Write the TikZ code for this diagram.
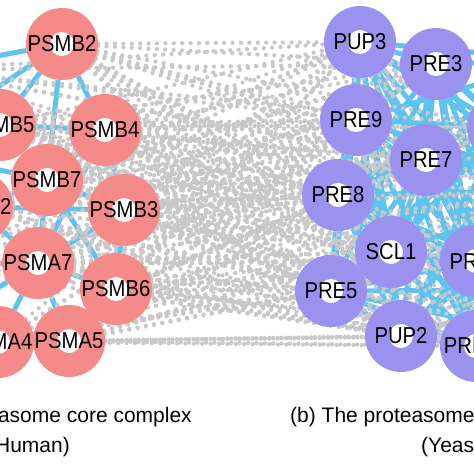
\documentclass[tikz,border=0pt]{standalone}
\usepackage{fontspec}
\setmainfont{Liberation Sans}
\newfontfamily\labelfont[FakeStretch=0.88]{Liberation Sans}
\usetikzlibrary{backgrounds}
\definecolor{human}{RGB}{245,138,138}
\definecolor{yeast}{RGB}{155,146,240}
\definecolor{link}{RGB}{95,195,240}
\definecolor{ortho}{RGB}{200,200,200}

\tikzset{
  subunit/.style={circle, minimum size=72pt, inner sep=0pt,
    font=\labelfont\fontsize{23}{23}\selectfont,
    path picture={\fill[white] (path picture bounding box.center) circle (12pt);}},
  hsub/.style={subunit, fill=human},
  ysub/.style={subunit, fill=yeast},
  ppi/.style={link, line width=5pt},
  hom/.style={ortho, line width=4.3pt, line cap=round, dash pattern=on 0pt off 8.4pt},
  caption/.style={font=\fontsize{21}{21}\selectfont, inner sep=0pt}
}

\begin{document}
\begin{tikzpicture}[x=1pt, y=-1pt]
  \useasboundingbox (0,0) rectangle (474,474);
  \clip (0,0) rectangle (474,474);
  % human core complex
  \node[hsub] (b2) at (62,44) {PSMB2};
  \node[hsub] (b5) at (0,125) {PSMB5};
  \node[hsub] (b4) at (105,130) {PSMB4};
  \node[hsub] (b7) at (47,180) {PSMB7};
  \node[hsub] (a2) at (-23,207) {PSMA2};
  \node[hsub] (b3) at (124,210) {PSMB3};
  \node[hsub] (a7) at (38,263) {PSMA7};
  \node[hsub] (b6) at (116,289) {PSMB6};
  \node[hsub] (a4) at (-2,342) {PSMA4};
  \node[hsub] (a5) at (69,341) {PSMA5};
  % yeast core complex
  \node[ysub] (p3) at (360,42) {PUP3};
  \node[ysub] (e3) at (436,64) {PRE3};
  \node[ysub] (e9) at (356,120) {PRE9};
  \node[ysub] (p1) at (503,127) {PUP1};
  \node[ysub] (e7) at (426,160) {PRE7};
  \node[ysub] (e8) at (338,195) {PRE8};
  \node[ysub] (s1) at (391,252) {SCL1};
  \node[ysub] (e2) at (476,261) {PRE2};
  \node[ysub] (e5) at (331,291) {PRE5};
  \node[ysub] (p2) at (401,336) {PUP2};
  \node[ysub] (e10) at (476,346) {PRE10};
  % ends of links running out of the frame
  \coordinate (hA) at (-80,70);
  \coordinate (hB) at (-95,150);
  \coordinate (hC) at (-85,265);
  \coordinate (hD) at (-70,330);
  \coordinate (yA) at (560,60);
  \coordinate (yB) at (580,190);
  \coordinate (yC) at (570,290);
  \coordinate (yD) at (540,335);

  \begin{scope}[on background layer]
    \clip (0,0) rectangle (474,474);
    % interactions inside each complex
    \foreach \a/\b in {b2/b5, b2/b4, b2/b7, b2/hA, b2/hB, b5/b4, b5/b7, b5/a2,
        b5/hA, b5/hB, b4/b7, b4/b3, b7/b3, b7/a2, b7/a7, b7/b6, a2/a7, a2/b3,
        a2/hB, a2/hC, b3/a7, b3/b6, a7/b6, a7/a5, a7/a4, a7/hC, b6/a5, a4/a5,
        a4/hC, a4/hD, a5/hD, b4/a7, b5/hC, a7/hD, b7/hB}
      \draw[ppi] (\a) -- (\b);
    \foreach \a [count=\i] in {p3,e3,e9,p1,e7,e8,s1,e2,e5,p2,e10,yA,yB,yC,yD}{
      \foreach \b [count=\j] in {p3,e3,e9,p1,e7,e8,s1,e2,e5,p2,e10,yA,yB,yC,yD}{
        \ifnum\j>\i \draw[ppi] (\a) -- (\b); \fi
      }
    }
    % homology links between the two complexes
    \foreach \h in {hA,hC,b2,b5,b4,b7,a2,b3,a7,b6,a4,a5}
      \foreach \y in {p3,e3,e9,p1,e7,e8,s1,e2,e5,p2,e10,yB,yD}
        \draw[hom] (\h) -- (\y);
  \end{scope}

  \node[caption, anchor=base east] (capA1) at (192,422) {(a) The proteasome core complex};
  \node[caption, anchor=base east] (capA2) at (70,452) {(Human)};
  \node[caption, anchor=base west] (capB1) at (290,422) {(b) The proteasome core complex};
  \node[caption, anchor=base west] (capB2) at (421,452) {(Yeast)};
\end{tikzpicture}
\end{document}
